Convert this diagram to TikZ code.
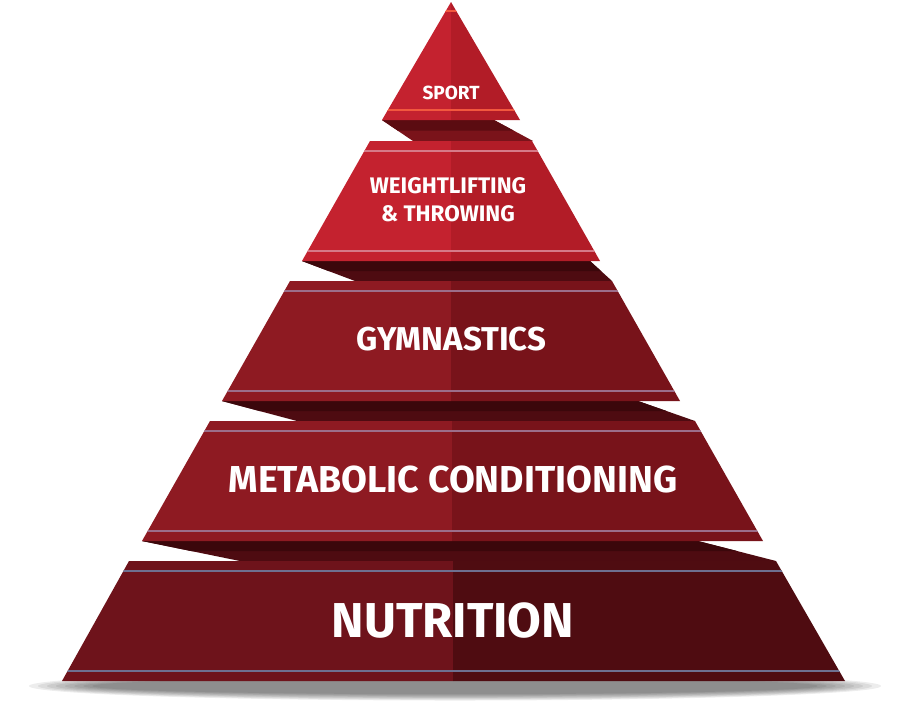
\documentclass[tikz,border=0pt]{standalone}
\usepackage{fontspec}
\setmainfont{Fira Sans}
\usetikzlibrary{calc}

\definecolor{sportleft}{HTML}{C4222F}
\definecolor{sportright}{HTML}{B21C27}
\definecolor{midleft}{HTML}{8E1A22}
\definecolor{midright}{HTML}{78131A}
\definecolor{baseleft}{HTML}{6E131B}
\definecolor{baseright}{HTML}{4F0C11}
\definecolor{orangeline}{HTML}{F2583E}
\definecolor{pinkline}{HTML}{D67A88}
\definecolor{mauveline}{HTML}{9C6E8A}
\definecolor{slateline}{HTML}{6E7090}
\definecolor{foldtop}{HTML}{5B0C11}
\definecolor{foldbottom}{HTML}{7A131A}
\definecolor{deepfoldtop}{HTML}{3B070B}
\definecolor{deepfoldbottom}{HTML}{4E0B11}

\tikzset{
  tiertext/.style={text=white, inner sep=0pt, anchor=base},
  stripe/.style={line width=2.5pt},
  groundlayer/.style={fill=black, opacity=0.07}
}

\begin{document}
\begin{tikzpicture}[x=1pt, y=-1pt]
\useasboundingbox (0,0) rectangle (901,705);

% Schatten am Boden
\foreach \k in {0,...,7}
  \fill[groundlayer] (455,686) ellipse [x radius=426-\k*9, y radius=14.5-\k*0.9];

% Falten zwischen den Stufen
\fill[foldbottom] (382,120) -- (494,120) -- (533,141) -- (413,141) -- cycle;
\fill[foldtop] (382,120) -- (494,120) -- (513.5,130.5) -- (397.5,130.5) -- cycle;
\fill[deepfoldbottom] (302,261) -- (590,261) -- (612,281) -- (355,281) -- cycle;
\fill[deepfoldtop] (302,261) -- (590,261) -- (601,271) -- (328.5,271) -- cycle;
\fill[deepfoldbottom] (222,401) -- (638,401) -- (695,421) -- (297,421) -- cycle;
\fill[deepfoldtop] (222,401) -- (638,401) -- (666.5,411) -- (259.5,411) -- cycle;
\fill[deepfoldbottom] (142,541) -- (698,541) -- (776,561) -- (240,561) -- cycle;
\fill[deepfoldtop] (142,541) -- (698,541) -- (737,551) -- (191,551) -- cycle;

% Sport
\fill[sportleft] (451,2) -- (451,120) -- (382,120) -- cycle;
\fill[sportright] (451,2) -- (520,120) -- (451,120) -- cycle;
\begin{scope}
  \clip (451,2) -- (520,120) -- (382,120) -- cycle;
  \draw[stripe, orangeline] (0,11) -- (901,11);
  \draw[stripe, orangeline] (0,110) -- (901,110);
\end{scope}
\node (sport) at (451,99) [tiertext, font={\bfseries\fontsize{19}{19}\selectfont}] {SPORT};

% Weightlifting
\fill[sportleft] (370,141) -- (451,141) -- (451,261) -- (302,261) -- cycle;
\fill[sportright] (451,141) -- (532,141) -- (600,261) -- (451,261) -- cycle;
\begin{scope}
  \clip (370,141) -- (532,141) -- (600,261) -- (302,261) -- cycle;
  \draw[stripe, pinkline] (0,151) -- (901,151);
  \draw[stripe, pinkline] (0,251) -- (901,251);
\end{scope}
\node (weight) at (448,193) [tiertext, font={\bfseries\fontsize{22.5}{22.5}\selectfont}] {WEIGHTLIFTING};
\node (throw) at (448,221) [tiertext, font={\bfseries\fontsize{22.5}{22.5}\selectfont}] {\& THROWING};

% Gymnastics
\fill[midleft] (290,281) -- (451,281) -- (451,401) -- (222,401) -- cycle;
\fill[midright] (451,281) -- (612,281) -- (680,401) -- (451,401) -- cycle;
\begin{scope}
  \clip (290,281) -- (612,281) -- (680,401) -- (222,401) -- cycle;
  \draw[stripe, mauveline] (0,291) -- (901,291);
  \draw[stripe, mauveline] (0,391) -- (901,391);
\end{scope}
\node (gym) at (451.5,350) [tiertext, font={\bfseries\fontsize{33}{33}\selectfont}] {GYMNASTICS};

% Metabolic conditioning
\fill[midleft] (210,421) -- (452,421) -- (452,541) -- (142,541) -- cycle;
\fill[midright] (452,421) -- (695,421) -- (763,541) -- (452,541) -- cycle;
\begin{scope}
  \clip (210,421) -- (695,421) -- (763,541) -- (142,541) -- cycle;
  \draw[stripe, mauveline] (0,431) -- (901,431);
  \draw[stripe, mauveline] (0,531) -- (901,531);
\end{scope}
\node (metcon) at (453,492) [tiertext, font={\bfseries\fontsize{37.5}{37.5}\selectfont}] {METABOLIC CONDITIONING};

% Nutrition
\fill[baseleft] (129,561) -- (453,561) -- (453,681) -- (62,681) -- cycle;
\fill[baseright] (453,561) -- (776,561) -- (845,681) -- (453,681) -- cycle;
\begin{scope}
  \clip (129,561) -- (776,561) -- (845,681) -- (62,681) -- cycle;
  \draw[stripe, slateline] (0,571) -- (901,571);
  \draw[stripe, slateline] (0,671) -- (901,671);
\end{scope}
\node (nutrition) at (453,637) [tiertext, font={\bfseries\fontsize{49}{49}\selectfont}] {NUTRITION};
\end{tikzpicture}
\end{document}
